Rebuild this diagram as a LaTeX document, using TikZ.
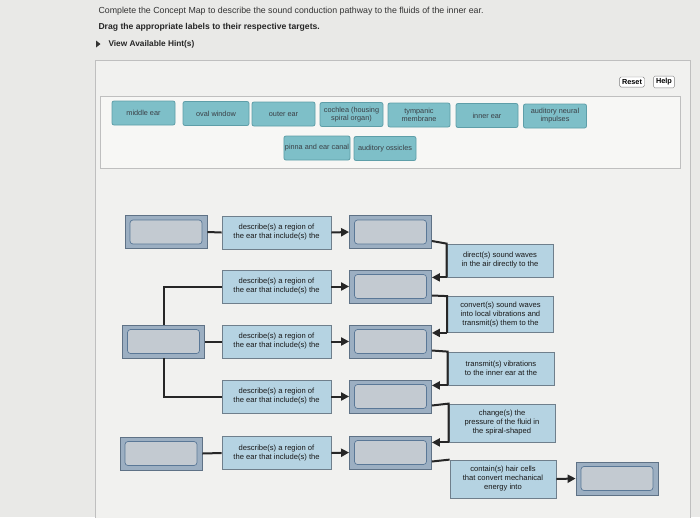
\documentclass[tikz,border=0pt]{standalone}
\usepackage{fontspec}
\setmainfont{Liberation Sans}
\usetikzlibrary{arrows.meta,positioning}
\definecolor{pagebg}{HTML}{E9E9E7}
\definecolor{panelbg}{HTML}{F1F1EF}
\definecolor{tile}{HTML}{7EBFC8}
\definecolor{tileb}{HTML}{5E9EA8}
\definecolor{linkf}{HTML}{B5D3E2}
\definecolor{linkb}{HTML}{6F7F8C}
\definecolor{tgto}{HTML}{9CAFC2}
\definecolor{tgtob}{HTML}{5F7286}
\definecolor{tgti}{HTML}{C3CAD1}
\definecolor{tgtib}{HTML}{5A7897}
\definecolor{txt}{HTML}{3A3F45}
\tikzset{
 tilebox/.style={draw=tileb,fill=tile,rounded corners=2pt,minimum height=24pt,inner sep=1pt,align=center,font=\fontsize{7.3}{8}\selectfont,text=txt,line width=0.8pt},
 linkbox/.style={draw=linkb,fill=linkf,minimum width=109pt,inner sep=1pt,align=center,font=\fontsize{7.6}{9}\selectfont,text=black!90,line width=0.8pt},
 tgtbox/.style={draw=tgtob,fill=tgto,minimum width=82pt,minimum height=33pt,line width=0.8pt},
 tgtin/.style={draw=tgtib,fill=tgti,rounded corners=3pt,minimum width=72pt,minimum height=24pt,line width=0.7pt},
 conn/.style={line width=2pt,draw=black!85},
 arr/.style={conn,-{Triangle[length=8pt,width=8pt]}},
 btn/.style={draw=black!50,fill=white,rounded corners=1.5pt,font=\fontsize{7.3}{8}\selectfont\bfseries,inner sep=2.5pt}
}
\newcommand{\tgt}[3]{\node[tgtbox] (#1) at (#2,#3) {};\node[tgtin] at (#2,#3) {};}
\begin{document}
\begin{tikzpicture}[x=1pt,y=-1pt]
\useasboundingbox (0,0) rectangle (700,517);
\fill[pagebg] (0,0) rectangle (700,517);
\node[anchor=west,font=\fontsize{8.8}{9}\selectfont,text=black!80] (t1) at (95,11) {Complete the Concept Map to describe the sound conduction pathway to the fluids of the inner ear.};
\node[anchor=west,font=\fontsize{8.6}{9}\selectfont\bfseries,text=black!85] (t2) at (95,27) {Drag the appropriate labels to their respective targets.};
\fill[black!80] (96,40.5) -- (100.5,44) -- (96,47.5) -- cycle;
\node[anchor=west,font=\fontsize{8.3}{9}\selectfont\bfseries,text=black!85] (t3) at (105,44) {View Available Hint(s)};
% panel
\draw[black!25,fill=panelbg] (95,60) rectangle (690,530);
\draw[black!25,fill=panelbg!60!white] (100,96) rectangle (680,168);
\node[btn] (reset) at (632,82) {Reset};
\node[btn] (help) at (664,82) {Help};
% tiles
\node[tilebox,minimum width=63pt] (l1) at (143.5,113) {middle ear};
\node[tilebox,minimum width=66pt] (l2) at (216,113.5) {oval window};
\node[tilebox,minimum width=63pt] (l3) at (283.5,114) {outer ear};
\node[tilebox,minimum width=63pt] (l4) at (351.5,114.5) {cochlea (housing\\spiral organ)};
\node[tilebox,minimum width=62pt] (l5) at (419,115) {tympanic\\membrane};
\node[tilebox,minimum width=62pt] (l6) at (487,115.5) {inner ear};
\node[tilebox,minimum width=63pt] (l7) at (555,116) {auditory neural\\impulses};
\node[tilebox,minimum width=64pt] (l8) at (317,148) {pinna and ear canal};
\node[tilebox,minimum width=62pt] (l9) at (385,148.5) {auditory ossicles};
% left targets
\tgt{a1}{166}{232}
\tgt{a2}{163.5}{341.5}
\tgt{a3}{161}{453.5}
% link boxes
\foreach \n/\y in {d1/232.5,d2/286.5,d3/341.5,d4/396.5,d5/453}
 \node[linkbox,minimum height=33pt] (\n) at (276.5,\y) {describe(s) a region of\\the ear that include(s) the};
% middle targets
\tgt{b1}{390.5}{232}
\tgt{b2}{390.5}{286.5}
\tgt{b3}{390.5}{341.5}
\tgt{b4}{390.5}{396.5}
\tgt{b5}{390.5}{452.5}
% right links
\node[linkbox,minimum width=106pt,minimum height=33pt] (r1) at (500,260.5) {direct(s) sound waves\\in the air directly to the};
\node[linkbox,minimum width=106pt,minimum height=36pt] (r2) at (500.5,314.5) {convert(s) sound waves\\into local vibrations and\\transmit(s) them to the};
\node[linkbox,minimum width=106pt,minimum height=33pt] (r3) at (501,368.5) {transmit(s) vibrations\\to the inner ear at the};
\node[linkbox,minimum width=106pt,minimum height=38pt] (r4) at (502,423) {change(s) the\\pressure of the fluid in\\the spiral-shaped};
\node[linkbox,minimum width=106pt,minimum height=38pt] (r5) at (503,479) {contain(s) hair cells\\that convert mechanical\\energy into};
\tgt{c1}{617}{478.5}
% connectors left
\draw[conn] (a1.east) -- (d1.west);
\draw[conn] (a2.east) -- (d3.west);
\draw[conn] (a3.east) -- (d5.west);
\draw[conn] (a2.north) |- (d2.west);
\draw[conn] (a2.south) |- (d4.west);
\foreach \i in {1,...,5} \draw[arr] (d\i.east) -- (b\i.west);
% right chain
\foreach \i/\j in {1/2,2/3,3/4,4/5}{
 \draw[conn] ([yshift=-9pt]b\i.east) -- (r\i.north west) -- (r\i.south west);
 \draw[arr] (r\i.south west) -- (b\j.east |- r\i.south west);
}
\draw[conn] ([yshift=-9pt]b5.east) -- (r5.north west);
\draw[arr] (r5.east) -- (c1.west);
\end{tikzpicture}
\end{document}
